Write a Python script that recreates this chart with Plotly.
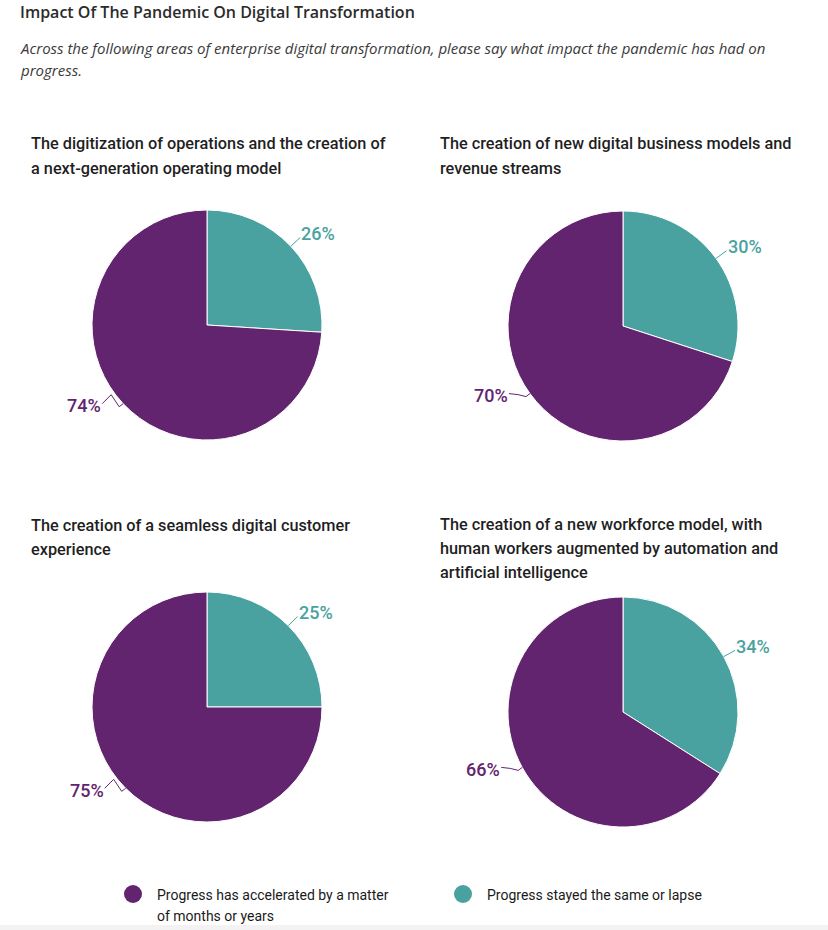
import math
import plotly.graph_objects as go

W, H = 828, 930

title = "Impact Of The Pandemic On Digital Transformation"
subtitle_lines = [
    "Across the following areas of enterprise digital transformation, please say what impact the pandemic has had on",
    "progress.",
]
categories = [
    "Progress stayed the same or lapse",
    "Progress has accelerated by a matter of months or years",
]
legend_lines = [
    ["Progress has accelerated by a matter", "of months or years"],
    ["Progress stayed the same or lapse"],
]
chart_titles = [
    ["The digitization of operations and the creation of", "a next-generation operating model"],
    ["The creation of new digital business models and", "revenue streams"],
    ["The creation of a seamless digital customer", "experience"],
    ["The creation of a new workforce model, with", "human workers augmented by automation and", "artificial intelligence"],
]
same_or_lapse = [26, 30, 25, 34]
accelerated = [74, 70, 75, 66]

teal = "#49a2a0"
purple = "#63246f"
slice_colors = [teal, purple]
legend_colors = [purple, teal]

# layout (pixels)
centers = [(207, 325), (623, 326), (207, 707), (623, 712)]
radius = 115
title_pos = [(31, 143), (440, 143), (31, 524), (440, 523)]
PAD = 2


def px(x):
    return x / W


def py(y):
    return 1 - y / H


fig = go.Figure()
annotations = []
shapes = []

for i, (cx, cy) in enumerate(centers):
    vals = [same_or_lapse[i], accelerated[i]]
    fig.add_trace(go.Pie(
        labels=categories,
        values=vals,
        sort=False,
        direction="clockwise",
        rotation=0,
        textinfo="none",
        hoverinfo="label+percent",
        marker=dict(colors=slice_colors, line=dict(color="white", width=1)),
        domain=dict(x=[px(cx - radius), px(cx + radius)], y=[py(cy + radius), py(cy - radius)]),
        showlegend=False,
    ))
    total = sum(vals)
    start = 0.0
    for k in range(2):
        frac = vals[k] / total
        mid = start + frac / 2
        start += frac
        ang = 2 * math.pi * mid
        sx, sy = math.sin(ang), -math.cos(ang)
        ex, ey = cx + radius * sx, cy + radius * sy
        col = slice_colors[k]
        if sx > 0:
            kx, ky = ex + 13 * sx, ey + 13 * sy
            path = f"M {px(ex)} {py(ey)} L {px(kx)} {py(ky)}"
            tx, ty, anchor = kx + 1 - PAD, ky - 4, "left"
        else:
            p1x, p1y = ex - 4, ey + 3
            deg = math.degrees(ang)
            peak = -9 if deg < 232 else 1
            p2x, p2y = ex - 12, ey + peak
            tx, ty, anchor = ex - 22 + PAD, ey + 2, "right"
            path = (f"M {px(ex)} {py(ey)} L {px(p1x)} {py(p1y)} L {px(p2x)} {py(p2y)} "
                    f"L {px(ex - 21)} {py(ey)}")
        shapes.append(dict(
            type="path", xref="paper", yref="paper", path=path,
            line=dict(color=col, width=1),
        ))
        annotations.append(dict(
            x=px(tx), y=py(ty), xref="paper", yref="paper",
            text=f"{vals[k]}%", showarrow=False,
            xanchor=anchor, yanchor="middle",
            font=dict(family="Roboto", size=18, color=col, weight=500),
        ))
    tx0, ty0 = title_pos[i]
    for j, line in enumerate(chart_titles[i]):
        annotations.append(dict(
            x=px(tx0 - PAD), y=py(ty0 + 1 + 24 * j), xref="paper", yref="paper",
            text=line, showarrow=False, xanchor="left", yanchor="middle",
            font=dict(family="Roboto", size=16.3, color="#1f1f1f", weight=500),
        ))

# main title and subtitle
annotations.append(dict(
    x=px(20 - PAD), y=py(12), xref="paper", yref="paper", text=title, showarrow=False,
    xanchor="left", yanchor="middle",
    font=dict(family="Open Sans", size=16, color="#2b2b2b", weight=600),
))
for j, line in enumerate(subtitle_lines):
    annotations.append(dict(
        x=px(20 - PAD), y=py(48 + 22 * j), xref="paper", yref="paper",
        text=f"<i>{line}</i>", showarrow=False, xanchor="left", yanchor="middle",
        font=dict(family="Open Sans", size=15, color="#3a3a3a"),
    ))

# custom legend
legend_x = [133, 463]
legend_y = 894
for k in range(2):
    lx = legend_x[k]
    shapes.append(dict(
        type="circle", xref="paper", yref="paper",
        x0=px(lx - 9), x1=px(lx + 9), y0=py(legend_y + 9), y1=py(legend_y - 9),
        fillcolor=legend_colors[k], line=dict(width=0),
    ))
    for j, line in enumerate(legend_lines[k]):
        annotations.append(dict(
            x=px(lx + 24 - PAD), y=py(legend_y + 1 + 21 * j), xref="paper", yref="paper",
            text=line, showarrow=False, xanchor="left", yanchor="middle",
            font=dict(family="Roboto", size=14, color="#1a1a1a"),
        ))

# faint bottom band
shapes.append(dict(
    type="rect", xref="paper", yref="paper", x0=0, x1=1, y0=0, y1=py(925),
    fillcolor="#f3f3f3", line=dict(width=0), layer="below",
))

fig.update_layout(
    width=W, height=H,
    margin=dict(l=0, r=0, t=0, b=0),
    paper_bgcolor="white", plot_bgcolor="white",
    annotations=annotations, shapes=shapes,
    showlegend=False,
)

fig.write_html("out.html")
